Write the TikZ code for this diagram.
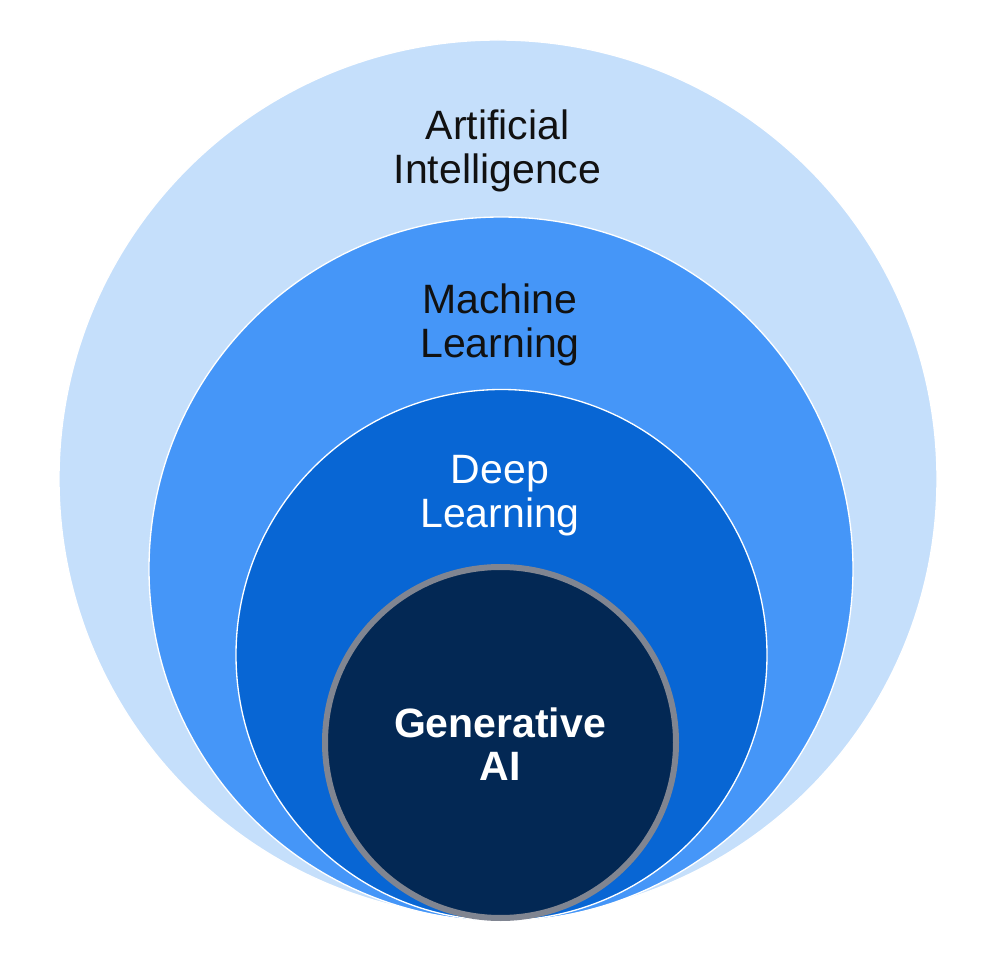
\documentclass[tikz,border=0pt]{standalone}
\usepackage{fontspec}
\setmainfont{Liberation Sans}
\tikzset{every picture/.style={line width=0.75pt}}

\begin{document}
\begin{tikzpicture}[x=0.75pt,y=0.75pt,yscale=-1,xscale=1]
	\path [use as bounding box] (0,0) rectangle (1004,962);
	
	%Shape: Circle [Artificial Intelligence]
	\draw  [color={rgb, 255:red, 255; green, 255; blue, 255 }  ,fill={rgb, 255:red, 197; green, 223; blue, 251 }  ,fill opacity=1 ][line width=1] (498,479) circle (439) ;
	%Shape: Circle [Machine Learning]
	\draw  [color={rgb, 255:red, 255; green, 255; blue, 255 }  ,fill={rgb, 255:red, 69; green, 150; blue, 248 }  ,fill opacity=1 ][line width=1] (501,569) circle (352) ;
	%Shape: Circle [Deep Learning]
	\draw  [color={rgb, 255:red, 255; green, 255; blue, 255 }  ,fill={rgb, 255:red, 8; green, 102; blue, 212 }  ,fill opacity=1 ][line width=1] (501.5,655) circle (265.5) ;
	%Shape: Circle [Generative AI]
	\draw  [color={rgb, 255:red, 128; green, 133; blue, 145 }  ,fill={rgb, 255:red, 3; green, 40; blue, 84 }  ,fill opacity=1 ][line width=4.5] (500.5,742.5) circle (175.5) ;
	
	% Text Node
	\draw (497.5,109) node [anchor=north][inner sep=0pt][align=center][font=\fontsize{30.75}{33}\selectfont]  [color={rgb, 255:red, 17; green, 17; blue, 17 }  ,opacity=1 ] (ai) {Artificial\\Intelligence};
	% Text Node
	\draw (500,283) node [anchor=north][inner sep=0pt][align=center][font=\fontsize{30.75}{33}\selectfont]  [color={rgb, 255:red, 17; green, 17; blue, 17 }  ,opacity=1 ] (ml) {Machine\\Learning};
	% Text Node
	\draw (500,455) node [anchor=north][inner sep=0pt][align=center][font=\fontsize{30.75}{33}\selectfont]  [color={rgb, 255:red, 255; green, 255; blue, 255 }  ,opacity=1 ] (dl) {Deep\\Learning};
	% Text Node
	\draw (500,707) node [anchor=north][inner sep=0pt][align=center][font=\fontsize{30.75}{32.5}\selectfont\bfseries]  [color={rgb, 255:red, 255; green, 255; blue, 255 }  ,opacity=1 ] (gai) {Generative\\AI};
	
\end{tikzpicture}
\end{document}
